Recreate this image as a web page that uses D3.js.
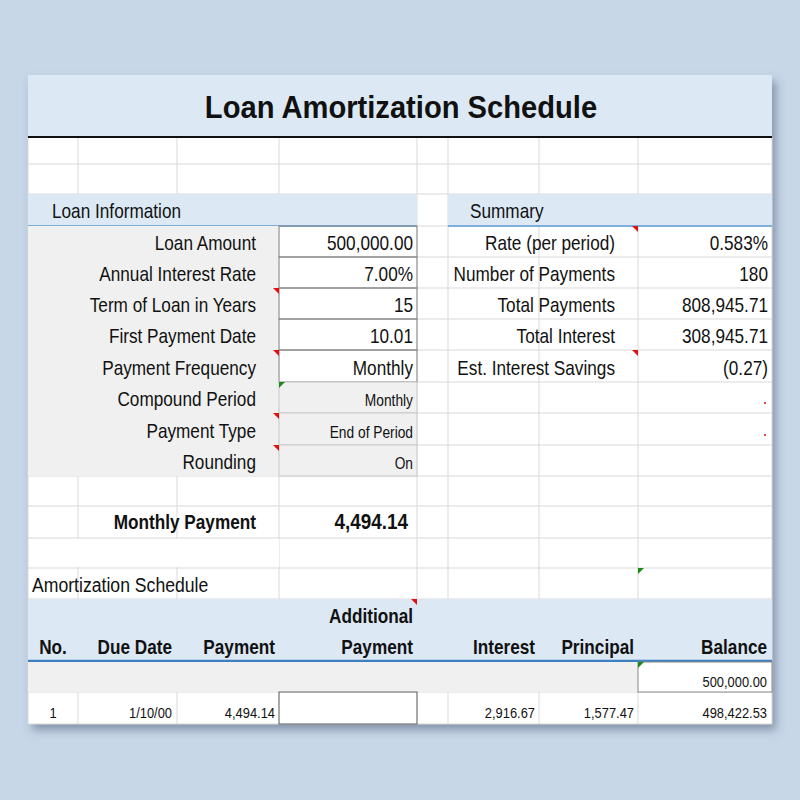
<!DOCTYPE html>
<html><head><meta charset="utf-8">
<script src="https://cdn.jsdelivr.net/npm/d3@7"></script>
<style>body{margin:0;background:#c7d7e8}</style>
</head><body><div id="chart"></div>
<script>
// Column edges and row edges of the sheet
var colEdges = [28, 78, 177, 279, 417, 448, 539, 638, 772];
var rowEdges = [137, 164, 194, 226, 257, 288, 319, 350, 382, 413, 445, 476, 506, 538, 568, 599, 630, 661, 692, 724];

var loanLabels = ['Loan Amount', 'Annual Interest Rate', 'Term of Loan in Years', 'First Payment Date',
  'Payment Frequency', 'Compound Period', 'Payment Type', 'Rounding'];
var loanValues = ['500,000.00', '7.00%', '15', '10.01', 'Monthly', 'Monthly', 'End of Period', 'On'];
var summaryLabels = ['Rate (per period)', 'Number of Payments', 'Total Payments', 'Total Interest', 'Est. Interest Savings'];
var summaryValues = ['0.583%', '180', '808,945.71', '308,945.71', '(0.27)'];
var headCols = ['No.', 'Due Date', 'Payment', 'Payment', 'Interest', 'Principal', 'Balance'];
var row1 = ['1', '1/10/00', '4,494.14', '', '2,916.67', '1,577.47', '498,422.53'];

var svg = d3.select('#chart').append('svg').attr('width', 800).attr('height', 800);
var defs = svg.append('defs');
var f = defs.append('filter').attr('id', 'sh').attr('x', '-5%').attr('y', '-5%').attr('width', '115%').attr('height', '115%');
f.append('feDropShadow').attr('dx', 4).attr('dy', 6).attr('stdDeviation', 5).attr('flood-color', '#40506a').attr('flood-opacity', 0.5);

var sans = '"Liberation Sans", Arial, sans-serif';
var L = colEdges[0], R = colEdges[8];
var y = function (i) { return rowEdges[i]; };

svg.append('rect').attr('x', L).attr('y', 75).attr('width', R - L).attr('height', 724 - 75)
  .attr('fill', '#fff').attr('filter', 'url(#sh)');

// grid lines
var g = svg.append('g').attr('stroke', '#d9d9d9').attr('stroke-width', 1);
colEdges.forEach(function (x) { g.append('line').attr('x1', x).attr('x2', x).attr('y1', 137).attr('y2', 724); });
rowEdges.forEach(function (r) { g.append('line').attr('x1', L).attr('x2', R).attr('y1', r).attr('y2', r); });

function rect(x1, y1, x2, y2, fill) {
  svg.append('rect').attr('x', x1).attr('y', y1).attr('width', x2 - x1).attr('height', y2 - y1).attr('fill', fill);
}
// text squeezed horizontally to mimic the narrow spreadsheet font
function text(t, x, yy, anchor, size, weight, sx) {
  svg.append('text').attr('transform', 'translate(' + x + ',' + yy + ') scale(' + (sx || 0.86) + ',1)')
    .attr('text-anchor', anchor || 'start')
    .attr('font-family', sans).attr('font-size', size || 20).attr('font-weight', weight || 'normal')
    .attr('fill', '#111').text(t);
}
function tri(x, yy, c) {
  svg.append('path').attr('d', 'M' + x + ',' + yy + 'l-6,0l6,6z').attr('fill', c);
}
function triL(x, yy, c) {
  svg.append('path').attr('d', 'M' + x + ',' + yy + 'l6,0l-6,6z').attr('fill', c);
}

// title band
rect(L, 75, R, 137, '#dce9f5');
svg.append('line').attr('x1', L).attr('x2', R).attr('y1', 137).attr('y2', 137).attr('stroke', '#111').attr('stroke-width', 2);
text('Loan Amortization Schedule', 401, 118, 'middle', 31, 'bold', 0.94);

// section headers
rect(L, y(2), colEdges[4], y(3), '#dce9f5');
rect(colEdges[5], y(2), R, y(3), '#dce9f5');
svg.append('line').attr('x1', L).attr('x2', colEdges[4]).attr('y1', y(3)).attr('y2', y(3)).attr('stroke', '#5b9bd5').attr('stroke-width', 1.5);
svg.append('line').attr('x1', colEdges[5]).attr('x2', R).attr('y1', y(3)).attr('y2', y(3)).attr('stroke', '#5b9bd5').attr('stroke-width', 1.5);
text('Loan Information', 52, 218, 'start', 20);
text('Summary', 470, 218, 'start', 20);

// loan info
rect(L, y(3), colEdges[3], y(11), '#f0f0f0');
loanLabels.forEach(function (d, i) {
  var top = y(3 + i), bot = y(4 + i);
  if (i >= 5) rect(colEdges[3], top, colEdges[4], bot, '#f0f0f0');
  else rect(colEdges[3] + 1, top + 1, colEdges[4] - 1, bot - 1, '#fff');
  svg.append('rect').attr('x', colEdges[3]).attr('y', top).attr('width', colEdges[4] - colEdges[3]).attr('height', bot - top)
    .attr('fill', 'none').attr('stroke', i >= 5 ? '#c8c8c8' : '#888');
  text(d, 256, bot - 7, 'end', 20);
  text(loanValues[i], 413, bot - 7, 'end', i >= 5 ? 16 : 20);
});
tri(279, 288, '#e01010'); tri(279, 350, '#e01010'); triL(279, 382, '#1a8a1a');
tri(279, 413, '#e01010'); tri(279, 445, '#e01010');

// summary
summaryLabels.forEach(function (d, i) {
  var bot = y(4 + i);
  text(d, 615, bot - 7, 'end', 20);
  text(summaryValues[i], 768, bot - 7, 'end', 20);
});
tri(638, 226, '#e01010'); tri(638, 350, '#e01010');
svg.append('circle').attr('cx', 765).attr('cy', 403).attr('r', 1).attr('fill', '#e01010');
svg.append('circle').attr('cx', 765).attr('cy', 435).attr('r', 1).attr('fill', '#e01010');

// monthly payment
text('Monthly Payment', 256, 529, 'end', 20, 'bold');
text('4,494.14', 408, 529, 'end', 22, 'bold');

// amortization
rect(L + 1, y(13) + 1, colEdges[3], y(14) - 1, '#fff');
text('Amortization Schedule', 32, 592, 'start', 21, 'normal', 0.84);
triL(638, 568, '#1a8a1a');
rect(L, y(15), R, y(17), '#dce9f5');
svg.append('line').attr('x1', L).attr('x2', R).attr('y1', y(17)).attr('y2', y(17)).attr('stroke', '#3f7fc0').attr('stroke-width', 2.5);
text('Additional', 413, 623, 'end', 20, 'bold');
tri(417, 599, '#e01010');
var headX = [[53, 'middle'], [172, 'end'], [275, 'end'], [413, 'end'], [535, 'end'], [634, 'end'], [767, 'end']];
headCols.forEach(function (d, i) { text(d, headX[i][0], 654, headX[i][1], 20, 'bold'); });

rect(L, y(17) + 1, colEdges[7], y(18), '#f0f0f0');
svg.append('rect').attr('x', colEdges[7]).attr('y', y(17) + 1).attr('width', R - colEdges[7]).attr('height', y(18) - y(17) - 1)
  .attr('fill', '#fff').attr('stroke', '#888');
triL(638, 662, '#1a8a1a');
text('500,000.00', 767, 687, 'end', 15);

svg.append('rect').attr('x', colEdges[3]).attr('y', y(18)).attr('width', colEdges[4] - colEdges[3]).attr('height', y(19) - y(18))
  .attr('fill', 'none').attr('stroke', '#666');
row1.forEach(function (d, i) { text(d, headX[i][0], 718, headX[i][1], 15); });
</script></body></html>
